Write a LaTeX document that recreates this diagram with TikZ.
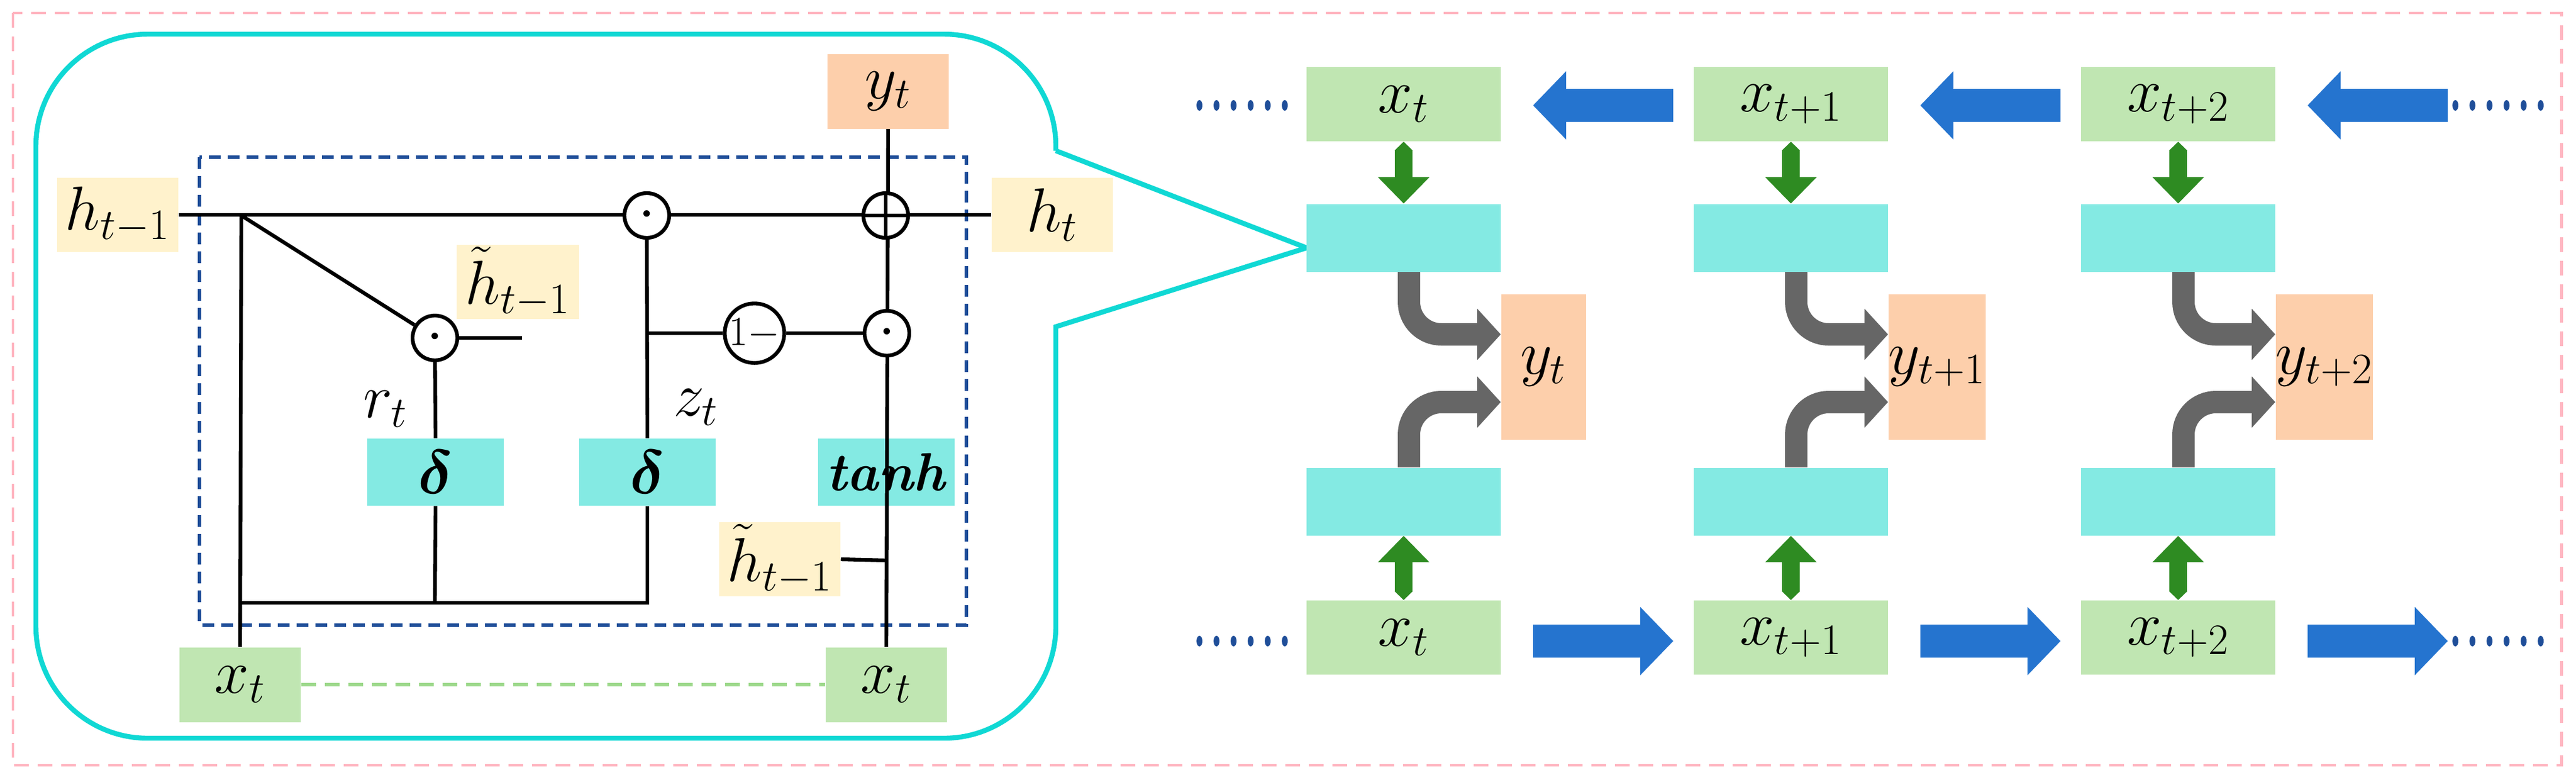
\RequirePackage{fix-cm}
\documentclass[tikz,border=0pt]{standalone}
\usepackage{amsmath,amssymb,bm}
\usepackage{xcolor}
\usepackage{tikz}
\usetikzlibrary{calc,arrows.meta,shapes.geometric}
\definecolor{frame}{HTML}{FFB6C1}
\definecolor{callc}{HTML}{10D8D4}
\definecolor{dkblue}{HTML}{1F4E99}
\definecolor{xg}{HTML}{C0E6B2}
\definecolor{lg}{HTML}{9ED98C}
\definecolor{cy}{HTML}{84EAE3}
\definecolor{yo}{HTML}{FDCFAB}
\definecolor{hy}{HTML}{FFF2CC}
\definecolor{blu}{HTML}{2574CF}
\definecolor{grn}{HTML}{2E8B22}
\definecolor{gry}{HTML}{666666}
\tikzset{
  xbox/.style={fill=xg, minimum width=2.06cm, minimum height=1.27cm, inner sep=0pt},
  ybox/.style={fill=yo, minimum width=2.06cm, minimum height=1.27cm, inner sep=0pt},
  hbox/.style={fill=hy, minimum width=2.06cm, minimum height=1.26cm, inner sep=0pt},
  gate/.style={fill=cy, minimum width=2.32cm, minimum height=1.14cm, inner sep=0pt},
  cell/.style={fill=cy, minimum width=3.3cm, minimum height=1.15cm, inner sep=0pt},
  op/.style={circle, draw, line width=1.8pt, fill=white, minimum size=0.76cm, inner sep=0pt},
  wire/.style={line width=1.8pt},
  garr/.style={draw=grn, line width=0.3cm, {Triangle[width=0.3cm,length=0.15cm]}-{Triangle[width=0.85cm,length=0.45cm]}},
  yarr/.style={draw=gry, line width=0.38cm, rounded corners=0.55cm, -{Triangle[width=0.85cm,length=0.4cm]}},
  barr/.style={fill=blu, draw=none}
}
\begin{document}
\begin{tikzpicture}[font=\fontsize{30}{36}\selectfont]
  \useasboundingbox (0,0) rectangle (43.77,-13.24);
  \draw[frame, line width=1.4pt, dash pattern=on 0.25cm off 0.15cm] (0.22,-0.22) rectangle (43.52,-13.0);

  % callout
  \draw[callc, line width=2.4pt] (17.94,-2.56) -- (22.2,-4.21) -- (17.94,-5.55)
    [rounded corners=1.9cm] -- (17.94,-12.54) -- (0.61,-12.54) -- (0.61,-0.58) -- (17.94,-0.58) -- (17.94,-2.56);
  \draw[dkblue, line width=1.8pt, dash pattern=on 0.2cm off 0.12cm] (3.39,-2.67) rectangle (16.42,-10.62);

  % GRU cell
  \node[hbox] (hp) at (2.00,-3.65) {$h_{t-1}$};
  \node[hbox] (hn) at (17.88,-3.65) {$h_t$};
  \node[ybox] (yo) at (15.09,-1.55) {$y_t$};
  \node[xbox] (xl) at (4.08,-11.63) {$x_t$};
  \node[xbox] (xr) at (15.06,-11.63) {$x_t$};
  \node[gate] (dr) at (7.40,-8.02) {$\bm{\delta}$};
  \node[gate] (dz) at (11.00,-8.02) {$\bm{\delta}$};
  \node[gate] (th) at (15.06,-8.02) {\fontsize{26}{30}\selectfont\textbf{\textit{tanh}}};
  \node[hbox, minimum width=2.08cm] (ha) at (8.80,-4.79) {$\tilde{h}_{t-1}$};
  \node[hbox] (hb) at (13.25,-9.50) {$\tilde{h}_{t-1}$};
  \node (rt) at (6.55,-6.95) {$r_t$};
  \node (zt) at (11.82,-6.92) {$z_t$};

  \coordinate (jA) at (4.10,-3.66);
  \coordinate (jB) at (4.10,-10.24);
  \coordinate (jC) at (7.39,-10.24);
  \coordinate (jD) at (11.00,-10.24);
  \coordinate (jE) at (11.00,-5.66);
  \coordinate (jF) at (15.06,-9.52);
  \coordinate (ae) at (8.87,-5.74);

  \draw[wire] (hp.east) -- (hn.west);
  \draw[wire] (yo.south) -- (xr.north);
  \draw[wire] (jA) -- (xl.north);
  \node[op] (m1) at (10.99,-3.66) {$\cdot$};
  \node[op, path picture={\draw[line width=1.8pt] (path picture bounding box.north) -- (path picture bounding box.south)
    (path picture bounding box.west) -- (path picture bounding box.east);}] (ad) at (15.05,-3.66) {};
  \node[op, minimum size=0.92cm] (one) at (12.82,-5.66) {\fontsize{20}{24}\selectfont 1$-$};
  \node[op] (m3) at (15.07,-5.66) {$\cdot$};
  \node[op] (m2) at (7.39,-5.74) {$\cdot$};
  \draw[wire] (jA) -- (m2);
  \draw[wire] (m2) -- (ae);
  \draw[wire] (m2) -- (dr.north);
  \draw[wire] (m1) -- (dz.north);
  \draw[wire] (jE) -- (one) -- (m3);
  \draw[wire] (dr.south) -- (jC);
  \draw[wire] (dz.south) -- (jD) -- (jB);
  \draw[wire] (hb.east) -- (jF);
  \draw[lg, line width=1.6pt, dash pattern=on 0.25cm off 0.15cm] (xl.east) -- (xr.west);

  % unrolled chain
  \foreach \c/\s [count=\i] in {23.85/t, 30.43/t+1, 37.01/t+2}{
    \node[xbox, minimum width=3.3cm, minimum height=1.26cm] (xa\i) at (\c,-1.77) {$x_{\s}$};
    \node[cell] (ca\i) at (\c,-4.04) {};
    \node[cell] (cb\i) at (\c,-8.52) {};
    \node[xbox, minimum width=3.3cm, minimum height=1.26cm] (xb\i) at (\c,-10.83) {$x_{\s}$};
    \node[ybox, minimum width=1.44cm, minimum height=2.47cm, anchor=west] (yy\i) at (\c+1.65,-6.23) {$y_{\s}$};
    \draw[garr] (xa\i.south) -- (ca\i.north);
    \draw[garr] (xb\i.north) -- (cb\i.south);
    \draw[yarr] ($(ca\i.south)+(0.09,0)$) |- ($(yy\i.west)+(0,0.55)$);
    \draw[yarr] ($(cb\i.north)+(0.09,0)$) |- ($(yy\i.west)+(0,-0.6)$);
    % block arrows
    \fill[barr] (\c+2.2,-1.79) -- ++(0.56,0.58) -- ++(0,-0.3) -- ++(1.82,0) -- ++(0,-0.56) -- ++(-1.82,0) -- ++(0,-0.3) -- cycle;
    \fill[barr] (\c+4.58,-10.89) -- ++(-0.56,0.58) -- ++(0,-0.3) -- ++(-1.82,0) -- ++(0,-0.56) -- ++(1.82,0) -- ++(0,-0.3) -- cycle;
  }
  \foreach \y in {-1.79,-10.89}{
    \foreach \k in {0,...,5}{
      \fill[dkblue] (20.38+0.29*\k,\y) ellipse (0.05 and 0.09);
      \fill[dkblue] (41.72+0.29*\k,\y) ellipse (0.05 and 0.09);
    }
  }
\end{tikzpicture}
\end{document}
